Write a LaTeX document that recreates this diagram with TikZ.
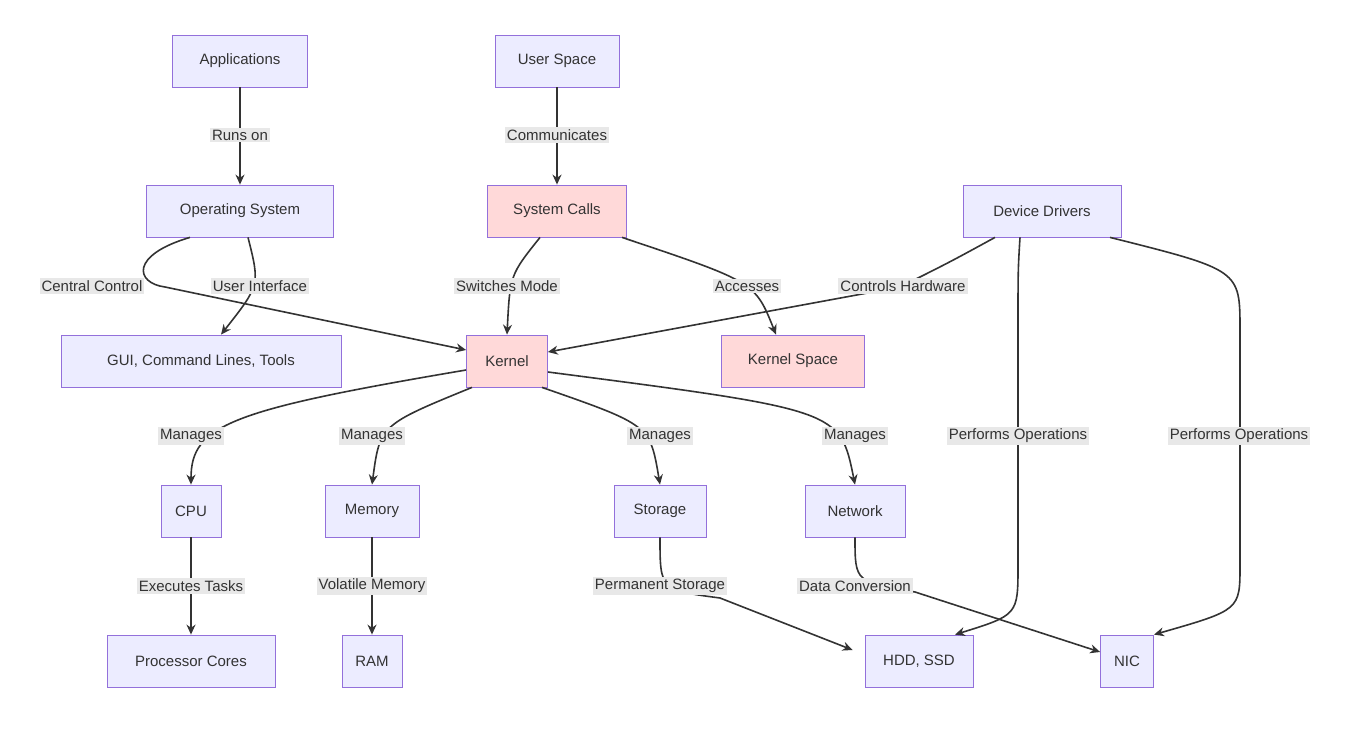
\documentclass[tikz,border=0pt]{standalone}
\usepackage{fontspec}
\setmainfont{Liberation Sans}
\usetikzlibrary{arrows.meta}
\definecolor{nf}{HTML}{ECECFF}
\definecolor{ns}{HTML}{9370DB}
\definecolor{pf}{HTML}{FFD9D9}
\definecolor{lb}{HTML}{E8E8E8}
\definecolor{ln}{HTML}{333333}
\begin{document}
\begin{tikzpicture}[x=1pt,y=-1pt,
 box/.style={draw=ns,fill=nf,line width=0.8pt,minimum height=52pt,inner xsep=10pt,font=\fontsize{15}{18}\selectfont,text=ln},
 pink/.style={box,fill=pf},
 lab/.style={fill=lb,inner sep=2pt,font=\fontsize{15}{18}\selectfont,text=ln},
 e/.style={draw=ln,line width=1.6pt,-{Stealth[length=10pt,width=9pt]}}]
\useasboundingbox (0,0) rectangle (1358,738);
\node[box,minimum width=135pt] (app) at (240,61) {Applications};
\node[box,minimum width=124pt] (us) at (557,61) {User Space};
\node[box,minimum width=187pt] (os) at (240,211) {Operating System};
\node[pink,minimum width=139pt] (sc) at (557,211) {System Calls};
\node[box,minimum width=158pt] (dd) at (1042,211) {Device Drivers};
\node[box,minimum width=280pt] (gui) at (201,361) {GUI, Command Lines, Tools};
\node[pink,minimum width=81pt] (k) at (507,361) {Kernel};
\node[pink,minimum width=143pt] (ks) at (793,361) {Kernel Space};
\node[box,minimum width=60pt] (cpu) at (191,511) {CPU};
\node[box,minimum width=94pt] (mem) at (372,511) {Memory};
\node[box,minimum width=92pt] (sto) at (660,511) {Storage};
\node[box,minimum width=100pt] (net) at (855,511) {Network};
\node[box,minimum width=168pt] (pc) at (191,661) {Processor Cores};
\node[box,minimum width=60pt] (ram) at (372,661) {RAM};
\node[box,minimum width=108pt] (hdd) at (919,661) {HDD, SSD};
\node[box,minimum width=53pt] (nic) at (1127,661) {NIC};

\draw[e] (app) -- (os);
\draw[e] (us) -- (sc);
\draw[e] ([xshift=-50pt]os.south) .. controls (130,255) and (135,283) .. (165,287) -- (k.west |- 0,350);
\draw[e] ([xshift=8pt]os.south) .. controls (260,285) .. ([xshift=20pt]gui.north);
\draw[e] ([xshift=-17pt]sc.south) .. controls (510,275) .. (k.north);
\draw[e] ([xshift=65pt]sc.south) .. controls (755,282) .. ([xshift=-17pt]ks.north);
\draw[e] ([xshift=-47pt]dd.south) .. controls (950,262) .. (900,287) -- (k.east |- 0,352);
\draw[e] ([xshift=-22pt]dd.south) .. controls (1018,270) .. (1018,330) -- (1018,565) .. controls (1018,615) .. ([xshift=36pt]hdd.north);
\draw[e] ([xshift=68pt]dd.south) .. controls (1240,270) .. (1240,330) -- (1240,565) .. controls (1240,610) .. ([xshift=27pt]nic.north);
\draw[e] (k.west |- 0,370) .. controls (230,410) and (191,425) .. (cpu.north);
\draw[e] ([xshift=-35pt]k.south) .. controls (380,425) .. (mem.north);
\draw[e] ([xshift=35pt]k.south) .. controls (650,425) .. (sto.north);
\draw[e] (k.east |- 0,372) .. controls (840,410) .. (net.north);
\draw[e] (cpu) -- (pc);
\draw[e] (mem) -- (ram);
\draw[e] (sto.south) .. controls (660,590) .. (720,598) -- ([xshift=-12pt]hdd.north west |- 0,650);
\draw[e] (net.south) .. controls (855,582) .. (915,592) -- (nic.west |- 0,652);

\node[lab] (l1) at (240,135) {Runs on};
\node[lab] (l2) at (557,135) {Communicates};
\node[lab] (l3) at (92,286) {Central Control};
\node[lab] (l4) at (260,286) {User Interface};
\node[lab] (l5) at (507,286) {Switches Mode};
\node[lab] (l6) at (747,286) {Accesses};
\node[lab] (l7) at (903,286) {Controls Hardware};
\node[lab] (l8) at (191,436) {Manages};
\node[lab] (l9) at (372,436) {Manages};
\node[lab] (l10) at (660,436) {Manages};
\node[lab] (l11) at (855,436) {Manages};
\node[lab] (l12) at (1018,436) {Performs Operations};
\node[lab] (l13) at (1239,436) {Performs Operations};
\node[lab] (l14) at (191,586) {Executes Tasks};
\node[lab] (l15) at (372,586) {Volatile Memory};
\node[lab] (l16) at (660,586) {Permanent Storage};
\node[lab] (l17) at (855,586) {Data Conversion};
\end{tikzpicture}
\end{document}
